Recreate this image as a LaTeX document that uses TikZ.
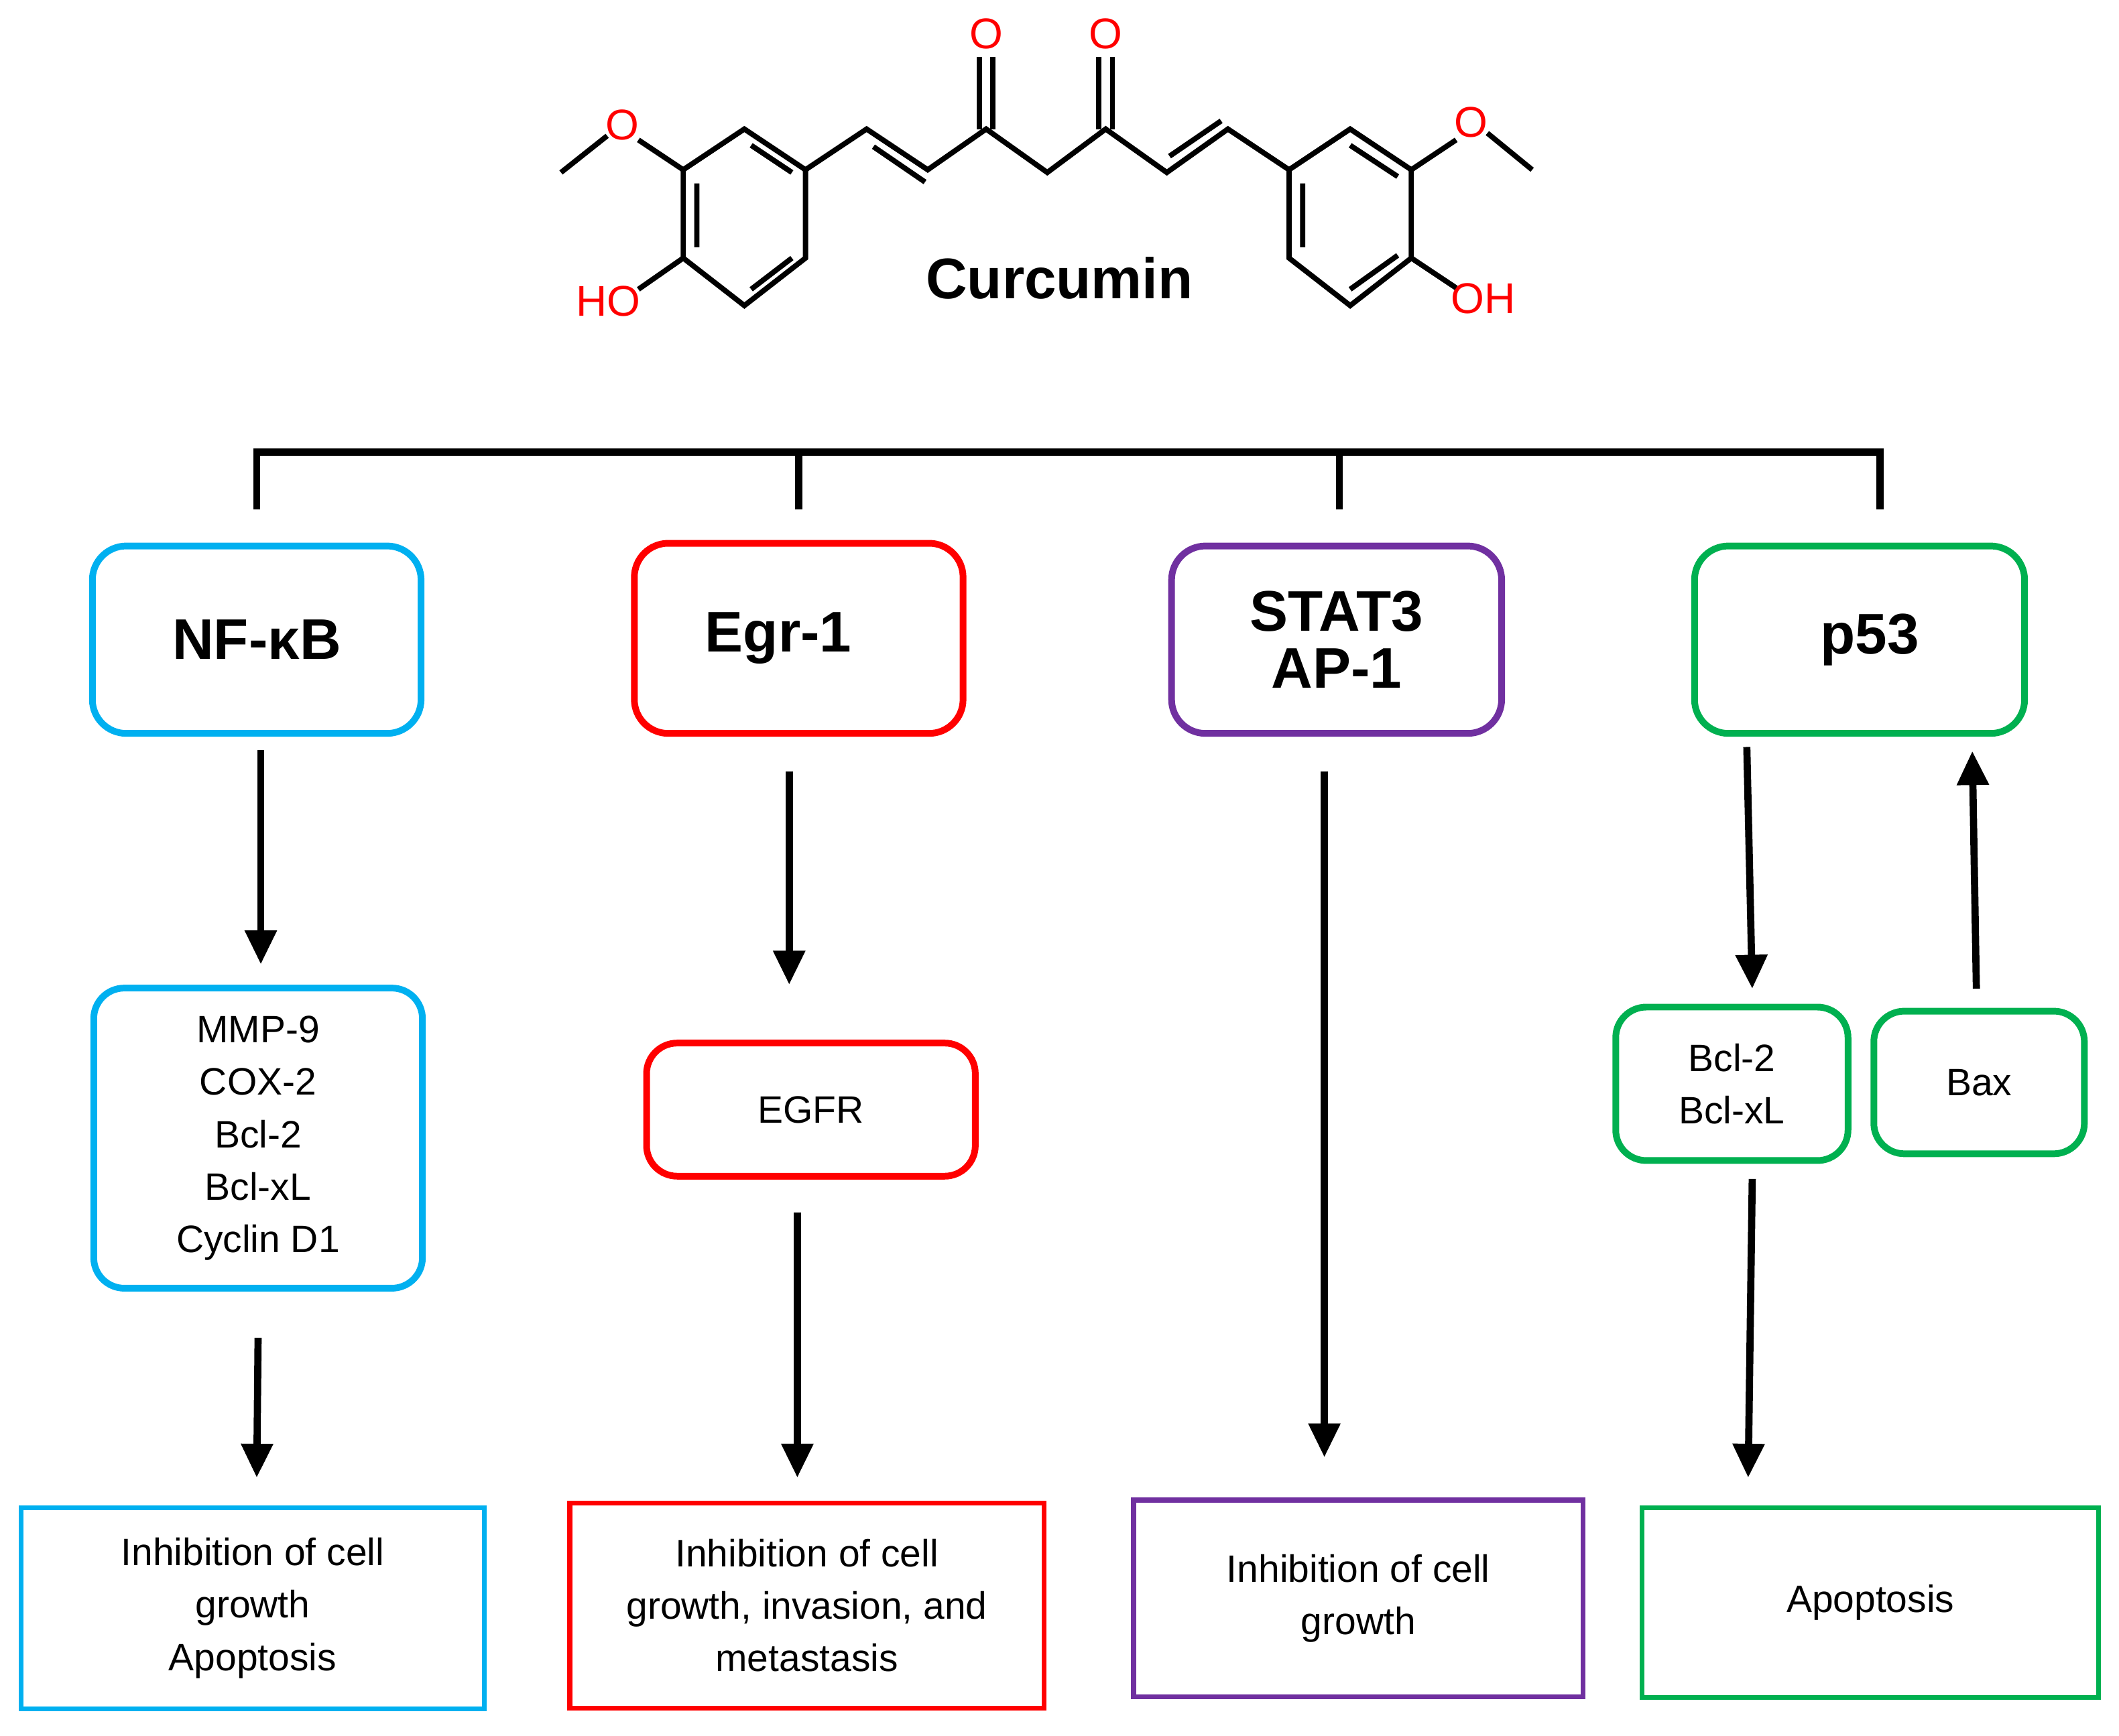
\documentclass[tikz,border=0pt]{standalone}
\usepackage{fontspec}
\setmainfont{Liberation Sans}
\usetikzlibrary{arrows.meta}
\definecolor{cb}{RGB}{0,176,240}
\definecolor{cr}{RGB}{255,0,0}
\definecolor{cp}{RGB}{112,48,160}
\definecolor{cg}{RGB}{0,176,80}
\begin{document}
\begin{tikzpicture}[x=0.02cm,y=-0.02cm,
  top/.style={draw,line width=2.8pt,rounded corners=0.5cm,font=\fontsize{24}{28}\selectfont\bfseries,align=center,inner sep=0},
  mid/.style={draw,line width=2.8pt,rounded corners=0.45cm,font=\fontsize{16}{22}\selectfont,align=center,inner sep=0},
  bot/.style={draw,line width=2pt,font=\fontsize{16}{22}\selectfont,align=center,inner sep=0},
  arr/.style={line width=3pt,-{Triangle[length=0.5cm,width=0.45cm]}},
  bond/.style={line width=2.2pt},
  atom/.style={text=red,font=\fontsize{18}{20}\selectfont,inner sep=0}]
\useasboundingbox (0,0) rectangle (1560,1278);
% molecule
\draw[bond] (503,125)--(548,95)--(593,125)--(593,190)--(548,225)--(503,190)--cycle;
\draw[bond] (513,135)--(513,182) (553,107)--(583,127) (553,213)--(583,190);
\draw[bond] (949,125)--(994,95)--(1039,125)--(1039,190)--(994,225)--(949,190)--cycle;
\draw[bond] (959,135)--(959,182) (994,107)--(1029,130) (994,213)--(1029,188);
\draw[bond] (593,125)--(638,95)--(683,125)--(726,95)--(771,127)--(814,95)--(859,127)--(904,95)--(949,125);
\draw[bond] (643,108)--(681,134) (861,115)--(899,89);
\draw[bond] (721,95)--(721,42) (731,95)--(731,42) (809,95)--(809,42) (819,95)--(819,42);
\node[atom] (o1) at (726,25) {O};
\node[atom] (o2) at (814,25) {O};
\node[atom] (o3) at (458,92) {O};
\node[atom] (o4) at (1083,90) {O};
\node[atom] (ho) at (448,222) {HO};
\node[atom] (oh) at (1092,220) {OH};
\draw[bond] (503,125)--(470,103) (447,100)--(413,127);
\draw[bond] (503,190)--(470,213);
\draw[bond] (1039,125)--(1072,103) (1095,98)--(1128,125);
\draw[bond] (1039,190)--(1072,212);
\node[font=\fontsize{24}{28}\selectfont\bfseries] (cur) at (780,205) {Curcumin};
% tree
\draw[line width=3pt] (189,375)--(189,333)--(1384,333)--(1384,375) (588,333)--(588,375) (986,333)--(986,375);
% top boxes
\node[top,cb,text=black,minimum width=242*0.02cm,minimum height=138*0.02cm] (nf) at (189,471) {NF-κB};
\node[top,cr,text=black,minimum width=242*0.02cm,minimum height=140*0.02cm] (egr) at (588,470) {\hspace*{-0.6cm}Egr-1};
\node[top,cp,text=black,minimum width=243*0.02cm,minimum height=138*0.02cm] (stat) at (984,471) {STAT3\\[-4pt]AP-1};
\node[top,cg,text=black,minimum width=243*0.02cm,minimum height=138*0.02cm] (p53) at (1369,471) {\hspace*{0.3cm}p53};
% middle
\node[mid,cb,text=black,minimum width=242*0.02cm,minimum height=221*0.02cm] (mmp) at (190,838) {MMP-9\\COX-2\\Bcl-2\\Bcl-xL\\Cyclin D1};
\node[mid,cr,text=black,minimum width=242*0.02cm,minimum height=98*0.02cm] (egfr) at (597,817) {EGFR};
\node[mid,cg,text=black,minimum width=171*0.02cm,minimum height=113*0.02cm] (bcl) at (1275,798) {Bcl-2\\Bcl-xL};
\node[mid,cg,text=black,minimum width=155*0.02cm,minimum height=105*0.02cm] (bax) at (1457,797) {Bax};
% bottom
\node[bot,cb,text=black,minimum width=341*0.02cm,minimum height=148*0.02cm] (b1) at (186,1184) {Inhibition of cell\\growth\\Apoptosis};
\node[bot,cr,text=black,minimum width=349*0.02cm,minimum height=151*0.02cm] (b2) at (594,1182) {Inhibition of cell\\growth, invasion, and\\metastasis};
\node[bot,cp,text=black,minimum width=331*0.02cm,minimum height=145*0.02cm] (b3) at (1000,1177) {Inhibition of cell\\growth};
\node[bot,cg,text=black,minimum width=336*0.02cm,minimum height=140*0.02cm] (b4) at (1377,1180) {Apoptosis};
% arrows
\coordinate (a1s) at (192,552); \coordinate (a1e) at (192,710);
\coordinate (a2s) at (190,985); \coordinate (a2e) at (189,1088);
\coordinate (a3s) at (581,568); \coordinate (a3e) at (581,725);
\coordinate (a4s) at (587,893); \coordinate (a4e) at (587,1088);
\coordinate (a5s) at (975,568); \coordinate (a5e) at (975,1073);
\coordinate (a6s) at (1286,550); \coordinate (a6e) at (1290,728);
\coordinate (a7s) at (1455,728); \coordinate (a7e) at (1452,553);
\coordinate (a8s) at (1290,868); \coordinate (a8e) at (1287,1088);
\foreach \a in {1,...,8} \draw[arr] (a\a s)--(a\a e);
\end{tikzpicture}
\end{document}
